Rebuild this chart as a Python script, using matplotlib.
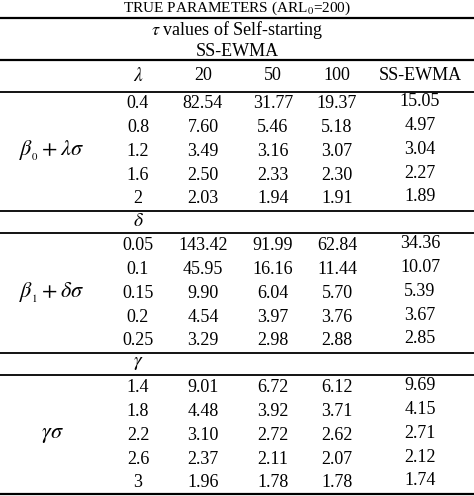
import matplotlib
matplotlib.use("Agg")
import matplotlib.pyplot as plt

lam = ["0.4", "0.8", "1.2", "1.6", "2"]
lam_vals = [[82.54, 31.77, 19.37, 15.05], [7.60, 5.46, 5.18, 4.97], [3.49, 3.16, 3.07, 3.04],
            [2.50, 2.33, 2.30, 2.27], [2.03, 1.94, 1.91, 1.89]]
delta = ["0.05", "0.1", "0.15", "0.2", "0.25"]
delta_vals = [[143.42, 91.99, 62.84, 34.36], [45.95, 16.16, 11.44, 10.07], [9.90, 6.04, 5.70, 5.39],
              [4.54, 3.97, 3.76, 3.67], [3.29, 2.98, 2.88, 2.85]]
gamma = ["1.4", "1.8", "2.2", "2.6", "3"]
gamma_vals = [[9.01, 6.72, 6.12, 9.69], [4.48, 3.92, 3.71, 4.15], [3.10, 2.72, 2.62, 2.71],
              [2.37, 2.11, 2.07, 2.12], [1.96, 1.78, 1.78, 1.74]]
col_heads = ["20", "50", "100", "SS-EWMA"]

W, H = 474, 496
plt.rcParams["mathtext.fontset"] = "stix"
fig = plt.figure(figsize=(W/100, H/100), dpi=100)
ax = fig.add_axes([0, 0, 1, 1])
ax.set_xlim(0, W); ax.set_ylim(H, 0); ax.axis("off")
fs = 13
ff = "Liberation Serif"

def t(x, y, s, size=fs, ha="center"):
    ax.text(x, y, s, ha=ha, va="center", fontsize=size, family=ff)

def hline(y, lw=1.3):
    ax.plot([0, W], [y, y], color="black", lw=lw)

t(237, 8, "TRUE PARAMETERS (ARL$_0$=200)", size=11)
hline(18, 1.6)
t(237, 30, r"$\tau$ values of Self-starting")
t(237, 51, "SS-EWMA")
hline(60, 1.6)
xs = [138, 203, 273, 337, 420]
t(xs[0], 76, r"$\lambda$", size=14)
for x, h in zip(xs[1:], col_heads):
    t(x, 76, h)
hline(92)

def block(y0, labs, vals, title):
    step = 23.7
    for i, (l, row) in enumerate(zip(labs, vals)):
        y = y0 + i*step
        t(xs[0], y, l)
        for j, v in enumerate(row):
            t(xs[j+1], y - (2 if j == 3 else 0), f"{v:.2f}")
    t(52, y0 + 2*step, title, size=16)

block(104, lam, lam_vals, r"$\beta_{_0}+\lambda\sigma$")
hline(211)
t(xs[0], 222, r"$\delta$", size=14)
hline(233)
block(246, delta, delta_vals, r"$\beta_{_1}+\delta\sigma$")
hline(353)
t(xs[0], 364, r"$\gamma$", size=14)
hline(375)
block(388, gamma, gamma_vals, r"$\gamma\sigma$")
hline(494, 1.6)

fig.savefig("out.png", dpi=100, facecolor="white")
